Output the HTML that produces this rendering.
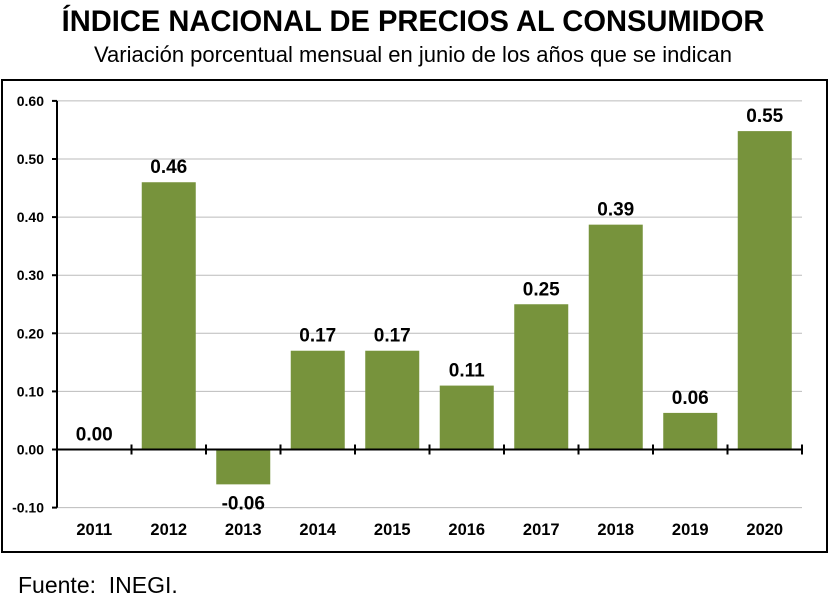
<!DOCTYPE html>
<html><head><meta charset="utf-8"><style>
body{margin:0;background:#fff;width:830px;height:614px;overflow:hidden;font-family:"Liberation Sans",Arial,sans-serif}
#t{position:absolute;left:0;width:830px;top:5px;text-align:center;font-weight:bold;font-size:30px;transform:translateX(-2px) scaleX(0.97)}
#s{position:absolute;left:0;width:830px;top:42px;text-align:center;font-size:22px;transform:translateX(-2px)}
#f{position:absolute;left:18px;top:572px;font-size:23px}
svg{position:absolute;left:0;top:0}
</style></head><body>
<div id="t">ÍNDICE NACIONAL DE PRECIOS AL CONSUMIDOR</div>
<div id="s">Variación porcentual mensual en junio de los años que se indican</div>
<svg width="830" height="614" id="c">
<rect x="2" y="80" width="825" height="472" fill="none" stroke="#000" stroke-width="2"/>
</svg>
<div id="f">Fuente:&nbsp; INEGI.</div>
<script>
const categories=["2011","2012","2013","2014","2015","2016","2017","2018","2019","2020"];
const values=[0.00,0.46,-0.06,0.17,0.17,0.11,0.25,0.387,0.063,0.548];
const valueLabels=["0.00","0.46","-0.06","0.17","0.17","0.11","0.25","0.39","0.06","0.55"];
const yTicks=[0.6,0.5,0.4,0.3,0.2,0.1,0,-0.1];
const yTickLabels=["0.60","0.50","0.40","0.30","0.20","0.10","0.00","-0.10"];
const svg=document.getElementById('c');const NS="http://www.w3.org/2000/svg";
const L=57,R=802,Y0=449.5,PX=581;
const y=v=>Y0-v*PX;const step=(R-L)/categories.length;const xc=i=>L+step*(i+0.5);
function mk(t,a,p){const e=document.createElementNS(NS,t);for(const k in a)e.setAttribute(k,a[k]);(p||svg).appendChild(e);return e;}
yTicks.forEach((v,i)=>{
 if(v!==0){const g=mk('line',{x1:L,x2:R,y1:y(v),y2:y(v),stroke:'#bbb','stroke-width':1});
 
 }
 const tk=mk('line',{x1:L-5,x2:L,y1:y(v),y2:y(v),stroke:'#000','stroke-width':2});
 
 
 const t=mk('text',{x:L-13,y:y(v)+5,'text-anchor':'end','font-size':14,'font-weight':'bold'});t.textContent=yTickLabels[i];
 
 
});
values.forEach((v,i)=>{
 const bw=54;const top=Math.min(y(v),Y0),h=Math.abs(y(v)-Y0);
 const b=mk('rect',{x:xc(i)-bw/2,y:top,width:bw,height:h,fill:'#77933c'});
 
 
 const ly=v>=0?y(v)-9:y(v)+25;
 const t=mk('text',{x:xc(i),y:ly,'text-anchor':'middle','font-size':19,'font-weight':'bold'});t.textContent=valueLabels[i];
 
 
 const c=mk('text',{x:xc(i),y:535,'text-anchor':'middle','font-size':16.5,'font-weight':'bold'});c.textContent=categories[i];
 
 
});
for(let i=1;i<=categories.length;i++){const tk=mk('line',{x1:L+step*i,x2:L+step*i,y1:Y0-5,y2:Y0+5,stroke:'#000','stroke-width':2});
 
 }
const ya=mk('line',{x1:L,x2:L,y1:y(0.6),y2:y(-0.1),stroke:'#000','stroke-width':2});


const xa=mk('line',{x1:L,x2:R,y1:Y0,y2:Y0,stroke:'#000','stroke-width':2});


</script>
</body></html>
